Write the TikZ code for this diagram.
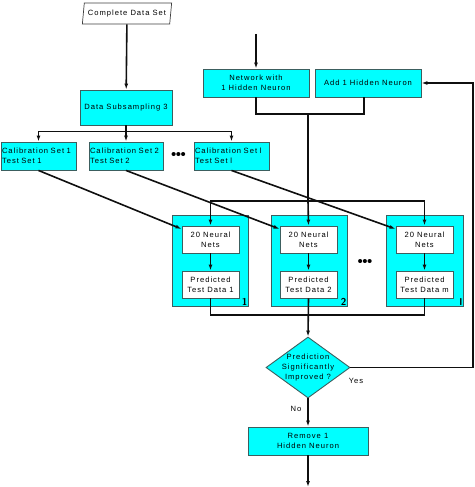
\documentclass[tikz,border=0pt]{standalone}
\usepackage{fontspec}
\usepackage{tikz}
\usetikzlibrary{shapes.geometric, arrows.meta, positioning, calc}
\newfontfamily\diagfont[LetterSpace=13]{Liberation Sans}
\newfontfamily\dotfont{Liberation Sans}
\definecolor{boxcyan}{RGB}{0, 255, 255}
\definecolor{boxedge}{RGB}{60, 95, 95}
\definecolor{linedark}{RGB}{15, 15, 15}
\tikzset{
    cyanbox/.style={draw=boxedge, fill=boxcyan, line width=0.9pt, inner sep=1pt, align=center, font=\diagfont\fontsize{7.6}{10}\selectfont},
    calbox/.style={cyanbox, align=left, text width=#1, minimum height=28pt},
    whitebox/.style={draw=boxedge, fill=white, line width=0.9pt, minimum width=57pt, minimum height=27pt, inner sep=1pt, align=center, font=\diagfont\fontsize{7.6}{10}\selectfont},
    groupbox/.style={draw=boxedge, fill=boxcyan, line width=0.9pt, minimum height=91pt},
    lbl/.style={font=\diagfont\fontsize{7.6}{9}\selectfont, inner sep=1pt},
    numlbl/.style={font=\sffamily\bfseries\fontsize{10}{10}\selectfont, inner sep=1pt, anchor=south east},
    dotsnode/.style={font=\dotfont\fontsize{15}{15}\selectfont, inner sep=0pt},
    flow/.style={draw=linedark, line width=1.6pt},
    arr/.style={flow, -{Latex[length=6pt, width=4pt]}}
}
\newcommand{\threedots}{\textbullet\kern-0.5pt\textbullet\kern-0.5pt\textbullet}
\begin{document}
\begin{tikzpicture}[x=1pt, y=-1pt]
    \useasboundingbox (0,0) rectangle (474,487);

    % Input and subsampling
    \node[trapezium, trapezium left angle=82, trapezium right angle=98, trapezium stretches=true,
          draw=black!75, fill=white, line width=0.7pt, minimum width=90pt, minimum height=21pt,
          font=\diagfont\fontsize{7.6}{9}\selectfont] (data) at (127,13.5) {Complete Data Set};
    \node[cyanbox, minimum width=92pt, minimum height=35pt] (subsamp) at (126,107.5) {Data Subsampling 3};

    % Calibration / test sets
    \node[calbox=73pt] (cal1) at (38.5,156) {Calibration Set 1\\Test Set 1};
    \node[calbox=72pt] (cal2) at (126,156) {Calibration Set 2\\Test Set 2};
    \node[calbox=73pt] (call) at (231.5,156) {Calibration Set l\\Test Set l};
    \node[dotsnode] (dotsA) at (178.5,156) {\threedots};

    % Network boxes
    \node[cyanbox, minimum width=106pt, minimum height=28pt] (net) at (256,83) {Network with\\1 Hidden Neuron};
    \node[cyanbox, minimum width=106pt, minimum height=28pt] (addn) at (368,83) {Add 1 Hidden Neuron};
    \coordinate (entry) at (256,34);
    \coordinate (join) at (308,114);

    % Groups of neural nets
    \node[groupbox, minimum width=76pt] (grp1) at (210,260.5) {};
    \node[groupbox, minimum width=76pt] (grp2) at (309,260.5) {};
    \node[groupbox, minimum width=77pt] (grp3) at (424.5,260.5) {};
    \node[whitebox] (nets1) at (210.5,239.5) {20 Neural\\Nets};
    \node[whitebox] (nets2) at (308.5,239.5) {20 Neural\\Nets};
    \node[whitebox] (nets3) at (424.5,239.5) {20 Neural\\Nets};
    \node[whitebox] (pred1) at (210.5,284.5) {Predicted\\Test Data 1};
    \node[whitebox] (pred2) at (308.5,284.5) {Predicted\\Test Data 2};
    \node[whitebox] (pred3) at (424.5,284.5) {Predicted\\Test Data m};
    \node[numlbl] (num1) at (grp1.south east) {1};
    \node[numlbl] (num2) at (grp2.south east) {2};
    \node[numlbl] (num3) at (grp3.south east) {l};
    \node[dotsnode] (dotsB) at (365,263) {\threedots};
    \coordinate (busA) at (308,201);
    \coordinate (busB) at (308,315);

    % Decision and removal
    \node[diamond, draw=boxedge, fill=boxcyan, line width=0.9pt, minimum width=84pt, minimum height=61pt, inner sep=0pt] (dec) at (308,367.5) {};
    \node[lbl, align=center, font=\diagfont\fontsize{7.6}{10}\selectfont] (dectext) at (dec.center) {Prediction\\Significantly\\Improved ?};
    \node[lbl] (yes) at (356,381) {Yes};
    \node[lbl] (no) at (296,409) {No};
    \node[cyanbox, minimum width=120pt, minimum height=28pt] (remove) at (308,441) {Remove 1\\Hidden Neuron};
    \coordinate (rcorner) at (473,367.5);
    \coordinate (exit) at (308,487);

    % Connectors
    \draw[arr] (data) -- (subsamp);
    \draw[arr] (subsamp.south) -- ++(0,6) -| (cal1.north);
    \draw[arr] (subsamp.south) -- (cal2.north);
    \draw[arr] (subsamp.south) -- ++(0,6) -| (call.north);
    \draw[arr] (cal1.south) -- (nets1.160);
    \draw[arr] (cal2.south) -- (nets2.160);
    \draw[arr] (call.south) -- (nets3.160);
    \draw[arr] (entry) -- (net.north);
    \draw[flow] (net.south) |- (join) -| ($(addn.south)+(-4,0)$);
    \draw[flow] (join) -- (busA);
    \draw[arr] (busA) -| (nets1.north);
    \draw[arr] (busA) -- (nets2.north);
    \draw[arr] (busA) -| (nets3.north);
    \foreach \i in {1,2,3} {
        \draw[arr] (nets\i.south) -- (pred\i.north);
    }
    \draw[flow] (pred1.south) |- (busB);
    \draw[flow] (pred3.south) |- (busB);
    \draw[arr] (pred2.south) -- (dec.north);
    \draw[arr] (dec.east) -- (rcorner) |- (addn.east);
    \draw[arr] (dec.south) -- (remove.north);
    \draw[arr] (remove.south) -- (exit);
\end{tikzpicture}
\end{document}
